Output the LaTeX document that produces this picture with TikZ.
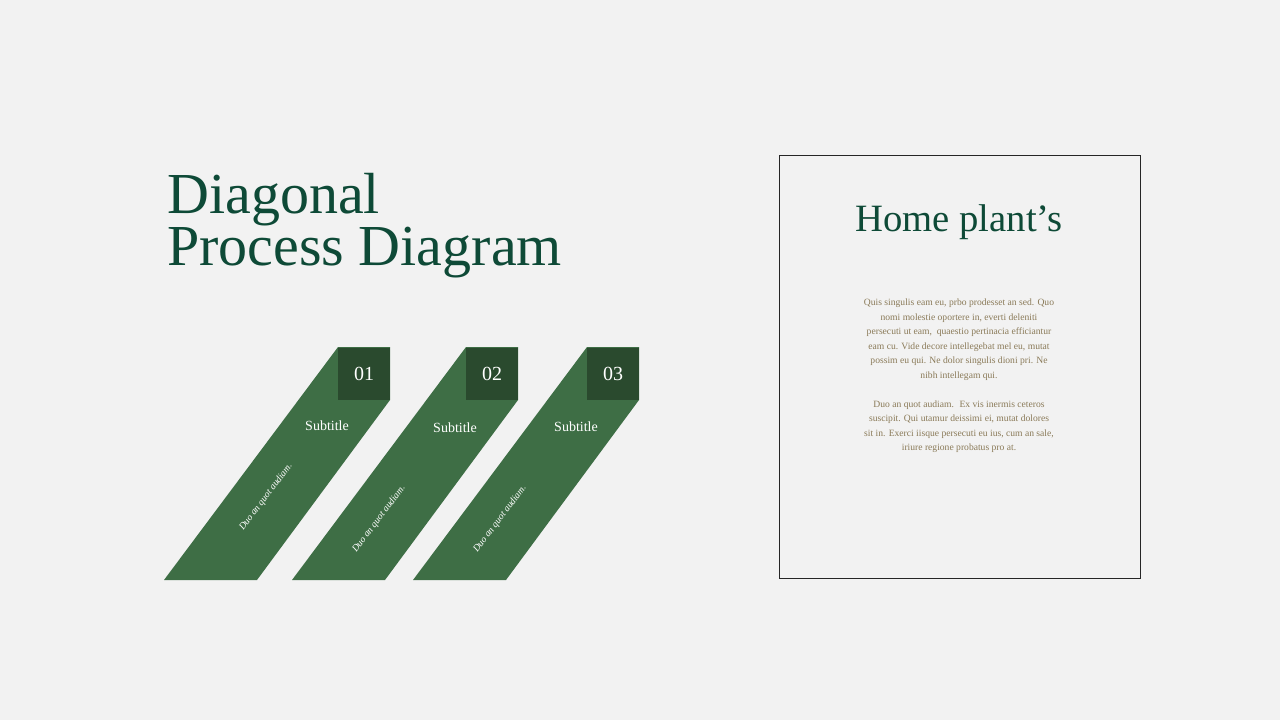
\documentclass[tikz,border=0pt]{standalone}
\usepackage{fontspec}
\setmainfont{Liberation Serif}
\usepackage{xcolor}
\definecolor{paper}{HTML}{F2F2F2}
\definecolor{leaf}{HTML}{3E6E45}
\definecolor{darkleaf}{HTML}{2A4A2E}
\definecolor{titlegreen}{HTML}{0E4A37}
\definecolor{bark}{HTML}{8A7A58}
\tikzset{x=0.75pt,y=-0.75pt,
  band/.style={fill=leaf},
  numbox/.style={fill=darkleaf,text=white,minimum size=39pt,inner sep=0pt,font=\fontsize{15}{15}\selectfont},
  subtitle/.style={text=white,font=\fontsize{10.5}{12}\selectfont},
  bandnote/.style={text=white,rotate=53,font=\itshape\fontsize{7.2}{8}\selectfont},
  infobox/.style={draw=black!85,thin}}

\begin{document}
\begin{tikzpicture}
    \fill[paper] (0,0) rectangle (1280,720);
    \useasboundingbox (0,0) rectangle (1280,720);
    % heading
    \node[anchor=base west,text=titlegreen,font=\fontsize{43.5}{39}\selectfont,align=left,inner sep=0pt] (title) at (167,265)
        {Diagonal\\Process Diagram};
    % diagonal steps
    \foreach \n/\dx/\sx/\sy/\nx/\ny in {1/0/327/426/266/497, 2/128/455/428/379/519, 3/249/576/427/500/519}{
        \fill[band] (164+\dx,580) -- (257+\dx,580) -- (390+\dx,400) -- (390+\dx,347) -- (338+\dx,347) -- cycle;
        \node[numbox] (num\n) at (364+\dx,373.5) {0\n};
        \node[subtitle] (sub\n) at (\sx,\sy) {Subtitle};
        \node[bandnote] (note\n) at (\nx,\ny) {Duo an quot audiam.};
    }
    % side panel
    \node[infobox,minimum width=270.75pt,minimum height=317.25pt,anchor=north west] (panel) at (779,155) {};
    \node[text=titlegreen,font=\fontsize{29}{30}\selectfont] (head) at (959,222) {Home plant’s};
    \node[text=bark,font=\fontsize{7.2}{10.9}\selectfont,align=center] (body) at (959,376)
        {Quis singulis eam eu, prbo prodesset an sed. Quo\\
        nomi molestie oportere in, everti deleniti\\
        persecuti ut eam,~ quaestio pertinacia efficiantur\\
        eam cu. Vide decore intellegebat mel eu, mutat\\
        possim eu qui. Ne dolor singulis dioni pri. Ne\\
        nibh intellegam qui.\\[10.9pt]
        Duo an quot audiam.~ Ex vis inermis ceteros\\
        suscipit. Qui utamur deissimi ei, mutat dolores\\
        sit in. Exerci iisque persecuti eu ius, cum an sale,\\
        iriure regione probatus pro at.};
\end{tikzpicture}
\end{document}
